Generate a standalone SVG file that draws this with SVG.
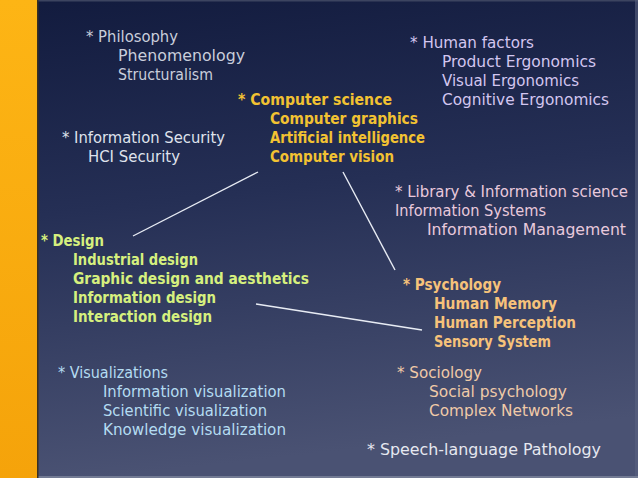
<svg xmlns="http://www.w3.org/2000/svg" width="638" height="478" viewBox="0 0 638 478">
<defs>
<linearGradient id="bg" x1="0" y1="0" x2="0.15" y2="1">
<stop offset="0" stop-color="#121b3e"/>
<stop offset="0.45" stop-color="#252f55"/>
<stop offset="1" stop-color="#4a5273"/>
</linearGradient>
<linearGradient id="stripe" x1="0" y1="0" x2="0" y2="1">
<stop offset="0" stop-color="#fdb515"/>
<stop offset="1" stop-color="#f5a30a"/>
</linearGradient>
<style>
text{font-family:"DejaVu Sans","Liberation Sans",sans-serif;font-size:16px}
.b{font-weight:bold}
.phil{fill:#c9cedb}
.sec{fill:#dfe2ec}
.cs{fill:#f2c232}
.hf{fill:#d3c6f0}
.lib{fill:#e9c9dc}
.des{fill:#d6f07e}
.psy{fill:#f6c27a}
.vis{fill:#b4dcf2}
.soc{fill:#f0caa8}
.sp{fill:#e6e8f0}
.conn line{stroke:#e8ecf4;stroke-width:1.4}
</style>
</defs>
<rect x="0" y="0" width="638" height="478" fill="url(#bg)"/>
<rect x="0" y="0" width="638" height="1.5" fill="#3c4460"/>
<rect x="635" y="0" width="3" height="478" fill="#5a6280" opacity="0.6"/>
<rect x="0" y="476" width="638" height="2" fill="#737b94"/>
<rect x="0" y="0" width="37" height="478" fill="url(#stripe)"/>
<rect x="37" y="0" width="1.5" height="478" fill="#3a3020"/>

<g id="connectors" class="conn">
<line x1="258" y1="172" x2="133" y2="236"/>
<line x1="343" y1="172" x2="395" y2="270"/>
<line x1="256" y1="304" x2="422" y2="330"/>
</g>

<g id="philosophy" class="phil">
<text x="86" y="42" textLength="92" lengthAdjust="spacingAndGlyphs">* Philosophy</text>
<text x="118" y="61" textLength="127" lengthAdjust="spacingAndGlyphs">Phenomenology</text>
<text x="118" y="80" textLength="95" lengthAdjust="spacingAndGlyphs">Structuralism</text>
</g>

<g id="human-factors" class="hf">
<text x="410" y="48" textLength="124" lengthAdjust="spacingAndGlyphs">* Human factors</text>
<text x="442" y="67" textLength="154" lengthAdjust="spacingAndGlyphs">Product Ergonomics</text>
<text x="442" y="86" textLength="137" lengthAdjust="spacingAndGlyphs">Visual Ergonomics</text>
<text x="442" y="105" textLength="167" lengthAdjust="spacingAndGlyphs">Cognitive Ergonomics</text>
</g>

<g id="computer-science" class="cs b">
<text x="238" y="105" textLength="154" lengthAdjust="spacingAndGlyphs">* Computer science</text>
<text x="270" y="124" textLength="148" lengthAdjust="spacingAndGlyphs">Computer graphics</text>
<text x="270" y="143" textLength="155" lengthAdjust="spacingAndGlyphs">Artificial intelligence</text>
<text x="270" y="162" textLength="124" lengthAdjust="spacingAndGlyphs">Computer vision</text>
</g>

<g id="information-security" class="sec">
<text x="62" y="143" textLength="163" lengthAdjust="spacingAndGlyphs">* Information Security</text>
<text x="88" y="162" textLength="92" lengthAdjust="spacingAndGlyphs">HCI Security</text>
</g>

<g id="library" class="lib">
<text x="628" y="197" text-anchor="end" textLength="233" lengthAdjust="spacingAndGlyphs">* Library &amp; Information science</text>
<text x="395" y="216" textLength="151" lengthAdjust="spacingAndGlyphs">Information Systems</text>
<text x="427" y="235" textLength="199" lengthAdjust="spacingAndGlyphs">Information Management</text>
</g>

<g id="design" class="des b">
<text x="41" y="246" textLength="63" lengthAdjust="spacingAndGlyphs">* Design</text>
<text x="73" y="265" textLength="125" lengthAdjust="spacingAndGlyphs">Industrial design</text>
<text x="73" y="284" textLength="236" lengthAdjust="spacingAndGlyphs">Graphic design and aesthetics</text>
<text x="73" y="303" textLength="143" lengthAdjust="spacingAndGlyphs">Information design</text>
<text x="73" y="322" textLength="139" lengthAdjust="spacingAndGlyphs">Interaction design</text>
</g>

<g id="psychology" class="psy b">
<text x="403" y="290" textLength="98" lengthAdjust="spacingAndGlyphs">* Psychology</text>
<text x="434" y="309" textLength="123" lengthAdjust="spacingAndGlyphs">Human Memory</text>
<text x="434" y="328" textLength="142" lengthAdjust="spacingAndGlyphs">Human Perception</text>
<text x="434" y="347" textLength="117" lengthAdjust="spacingAndGlyphs">Sensory System</text>
</g>

<g id="visualizations" class="vis">
<text x="58" y="378" textLength="110" lengthAdjust="spacingAndGlyphs">* Visualizations</text>
<text x="103" y="397" textLength="183" lengthAdjust="spacingAndGlyphs">Information visualization</text>
<text x="103" y="416" textLength="164" lengthAdjust="spacingAndGlyphs">Scientific visualization</text>
<text x="103" y="435" textLength="183" lengthAdjust="spacingAndGlyphs">Knowledge visualization</text>
</g>

<g id="sociology" class="soc">
<text x="397" y="378" textLength="85" lengthAdjust="spacingAndGlyphs">* Sociology</text>
<text x="429" y="397" textLength="138" lengthAdjust="spacingAndGlyphs">Social psychology</text>
<text x="429" y="416" textLength="144" lengthAdjust="spacingAndGlyphs">Complex Networks</text>
</g>

<g id="speech" class="sp">
<text x="367" y="455" textLength="234" lengthAdjust="spacingAndGlyphs">* Speech-language Pathology</text>
</g>
</svg>
